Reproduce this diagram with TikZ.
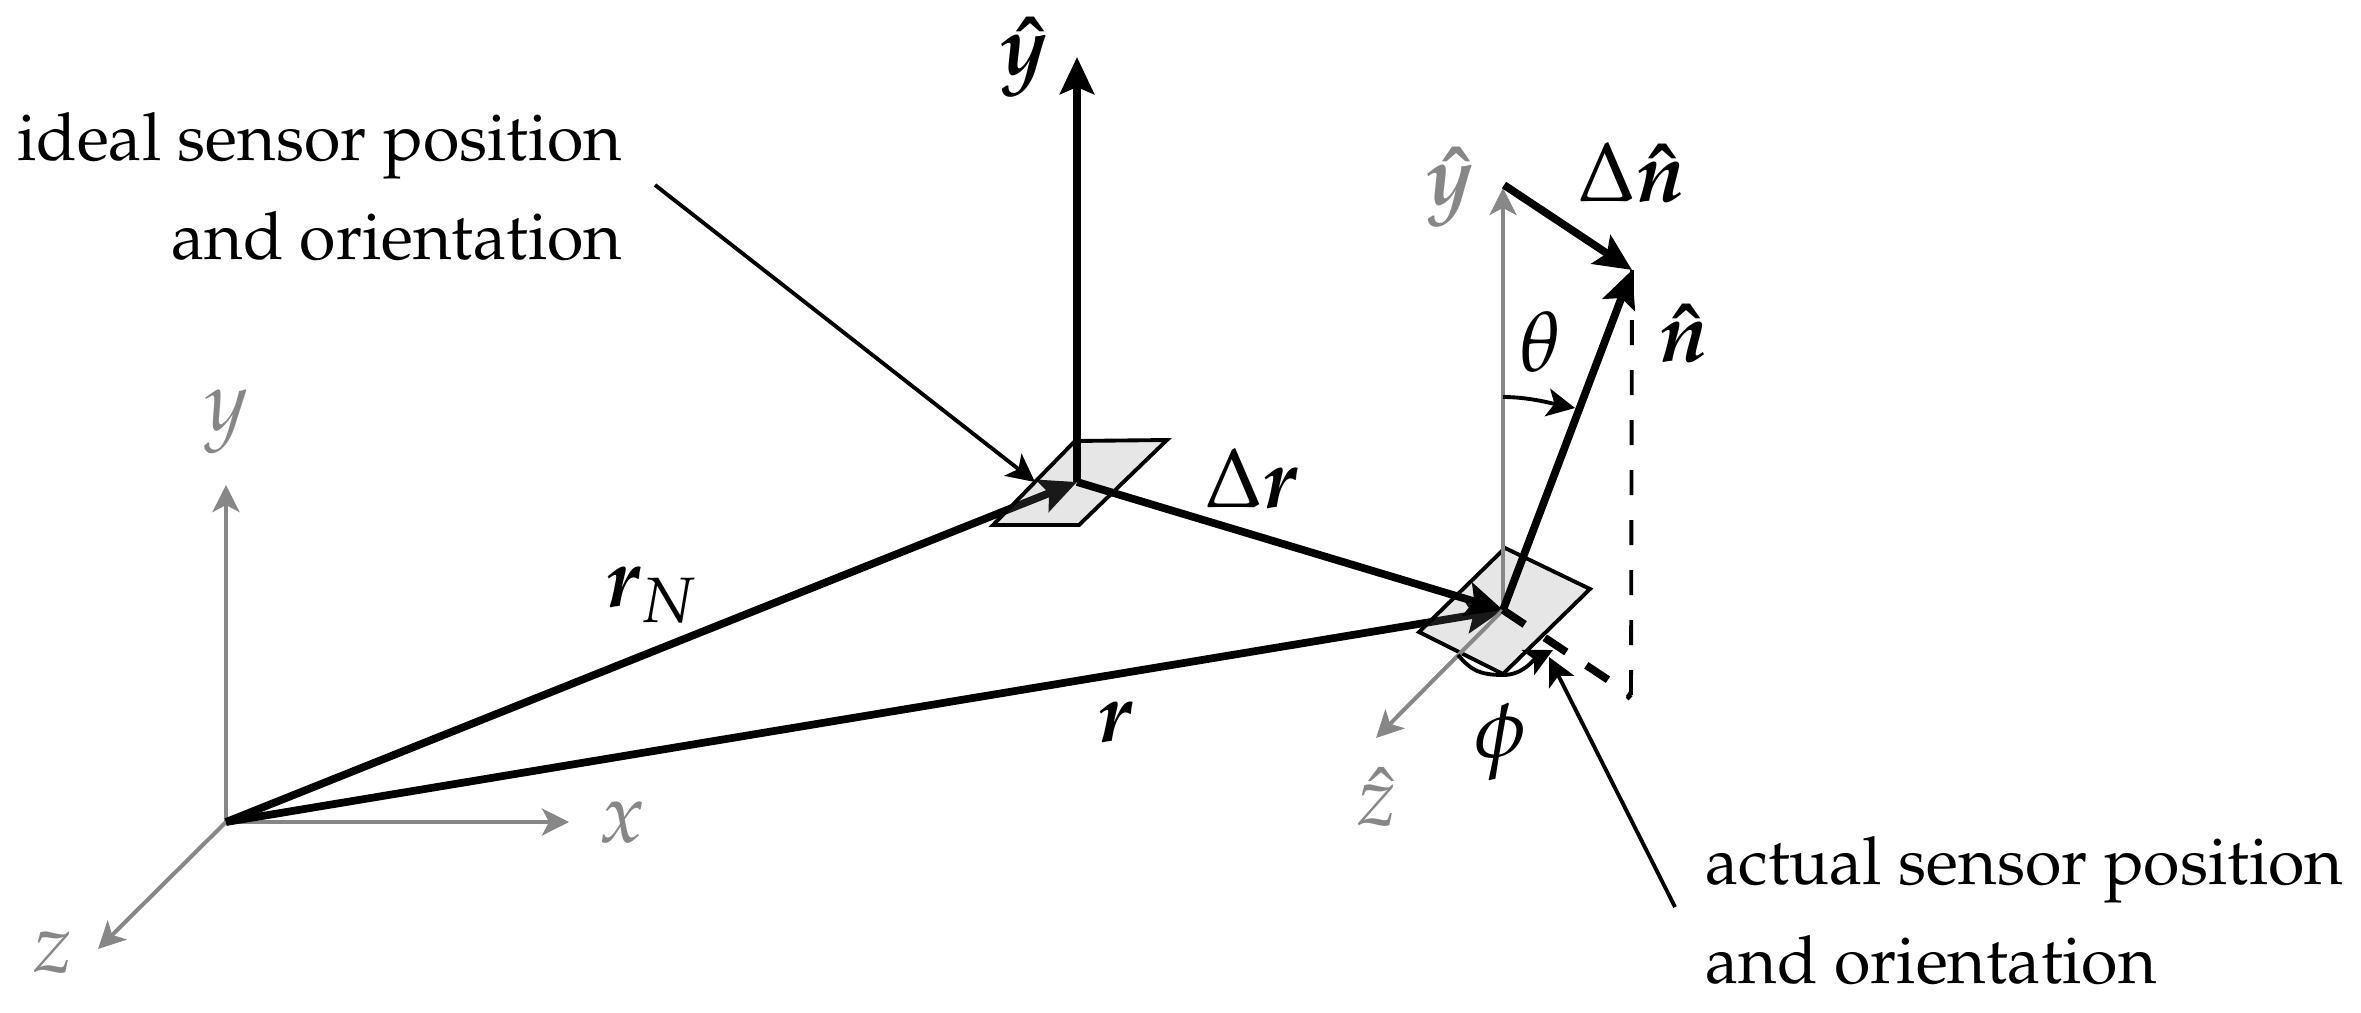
\documentclass[tikz,border=0pt]{standalone}
\usepackage[T1]{fontenc}
\usepackage{amsmath}
\usepackage{mathpazo}
\usepackage{bm}
\usepackage{tikz}
\usetikzlibrary{arrows.meta}

\begin{document}
\begin{tikzpicture}[
    graytip/.style={-{Stealth[length=0.27cm,width=0.27cm,inset=0.07cm]}},
    boldtip/.style={-{Stealth[length=0.37cm,width=0.34cm,inset=0.07cm]}},
    thintip/.style={-{Stealth[length=0.28cm,width=0.28cm,inset=0.07cm]}},
    axisline/.style={graytip, draw=black!47, line width=1.15pt},
    boldline/.style={boldtip, draw=black, line width=2.2pt},
    thinline/.style={thintip, draw=black, line width=1.1pt},
    sensorplate/.style={draw=black, line width=1.1pt, fill=gray, fill opacity=0.2, draw opacity=1},
    mathlabel/.style={font=\fontsize{24}{24}\selectfont},
    grayname/.style={mathlabel, text=black!47},
    textlabel/.style={font=\fontsize{18.85}{28}\selectfont}
]
    \useasboundingbox (0,0) rectangle (23.61,10.12);

    \coordinate (origin) at (2.26,1.90);
    \coordinate (ytip) at (2.26,5.27);
    \coordinate (xtip) at (5.69,1.90);
    \coordinate (ztip) at (0.98,0.63);

    \coordinate (ideal) at (10.77,5.30);
    \coordinate (idealy) at (10.77,9.55);
    \coordinate (actual) at (15.03,4.02);
    \coordinate (actualy) at (15.03,8.24);
    \coordinate (actualz) at (13.76,2.74);
    \coordinate (ntip) at (16.32,7.42);
    \coordinate (nstart) at (15.04,8.27);
    \coordinate (nbottom) at (16.31,3.17);
    \coordinate (nhook) at (16.27,3.13);

    % gray frame at the origin
    \draw[axisline] (origin) to (ytip);
    \draw[axisline] (origin) to (xtip);
    \draw[axisline] (origin) to (ztip);

    \node[grayname] (ylabel) at (2.27,5.90) {$y$};
    \node[grayname] (xlabel) at (6.22,1.90) {$x$};
    \node[grayname] (zlabel) at (0.53,0.60) {$z$};

    % position vectors go under the plates
    \draw[boldline] (origin) to (ideal);
    \draw[boldline] (origin) to (actual);

    \draw[sensorplate] (10.75,5.71) -- (11.67,5.72) -- (10.79,4.87) -- (9.93,4.87) -- cycle;
    \draw[sensorplate] (15.05,4.64) -- (15.90,4.23) -- (15.03,3.38) -- (14.19,3.80) -- cycle;

    \draw[boldline] (ideal) to (idealy);
    \draw[boldline] (ideal) to (actual);

    % local frame of the actual sensor
    \draw[axisline] (actual) to (actualy);
    \draw[axisline] (actual) to (actualz);

    \draw[boldline] (actual) to (ntip);
    \draw[boldline] (nstart) to (ntip);

    \draw[draw=black, line width=1.1pt, dash pattern=on 0.25cm off 0.25cm] (ntip) to (nbottom);
    \draw[draw=black, line width=1.1pt] (nbottom) to (nhook);
    \draw[draw=black, line width=2.2pt, dash pattern=on 0.26cm off 0.24cm] (actual) to (nbottom);

    % angles
    \draw[thinline] (15.03,6.15) .. controls +(0.25,0) and +(-0.25,0.05) .. (15.75,6.04);
    \draw[thinline] (14.58,3.57) .. controls +(0.12,-0.14) and +(-0.25,0) .. (15.03,3.37)
        .. controls +(0.2,0) and +(-0.2,-0.1) .. (15.53,3.62);

    \node[mathlabel] (yhat) at (10.24,9.55) {$\bm{\hat{y}}$};
    \node[grayname] (yhatgray) at (14.50,8.25) {$\bm{\hat{y}}$};
    \node[grayname] (zhatgray) at (13.77,2.15) {$\hat{z}$};
    \node[mathlabel] (dn) at (16.31,8.39) {$\Delta\bm{\hat{n}}$};
    \node[mathlabel] (nhat) at (16.84,6.79) {$\bm{\hat{n}}$};
    \node[mathlabel] (theta) at (15.40,6.70) {$\theta$};
    \node[mathlabel] (phi) at (15.00,2.70) {$\phi$};
    \node[mathlabel] (dr) at (12.52,5.33) {$\Delta\bm{r}$};
    \node[mathlabel] (rn) at (6.52,4.17) {$\bm{r}_{N}$};
    \node[mathlabel] (rr) at (11.16,2.89) {$\bm{r}$};

    \node[textlabel, align=right, anchor=north east, inner sep=0pt] (idealtext) at (6.23,9.00) {ideal sensor position\\and orientation};
    \node[textlabel, align=left, anchor=north west, inner sep=0pt] (actualtext) at (17.05,1.76) {actual sensor position\\and orientation};

    \coordinate (idealfoot) at (6.55,8.27);
    \coordinate (idealend) at (10.35,5.30);
    \coordinate (actualfoot) at (16.75,1.05);
    \coordinate (actualend) at (15.49,3.55);

    \draw[thinline] (idealfoot) to (idealend);
    \draw[thinline] (actualfoot) to (actualend);

\end{tikzpicture}
\end{document}
